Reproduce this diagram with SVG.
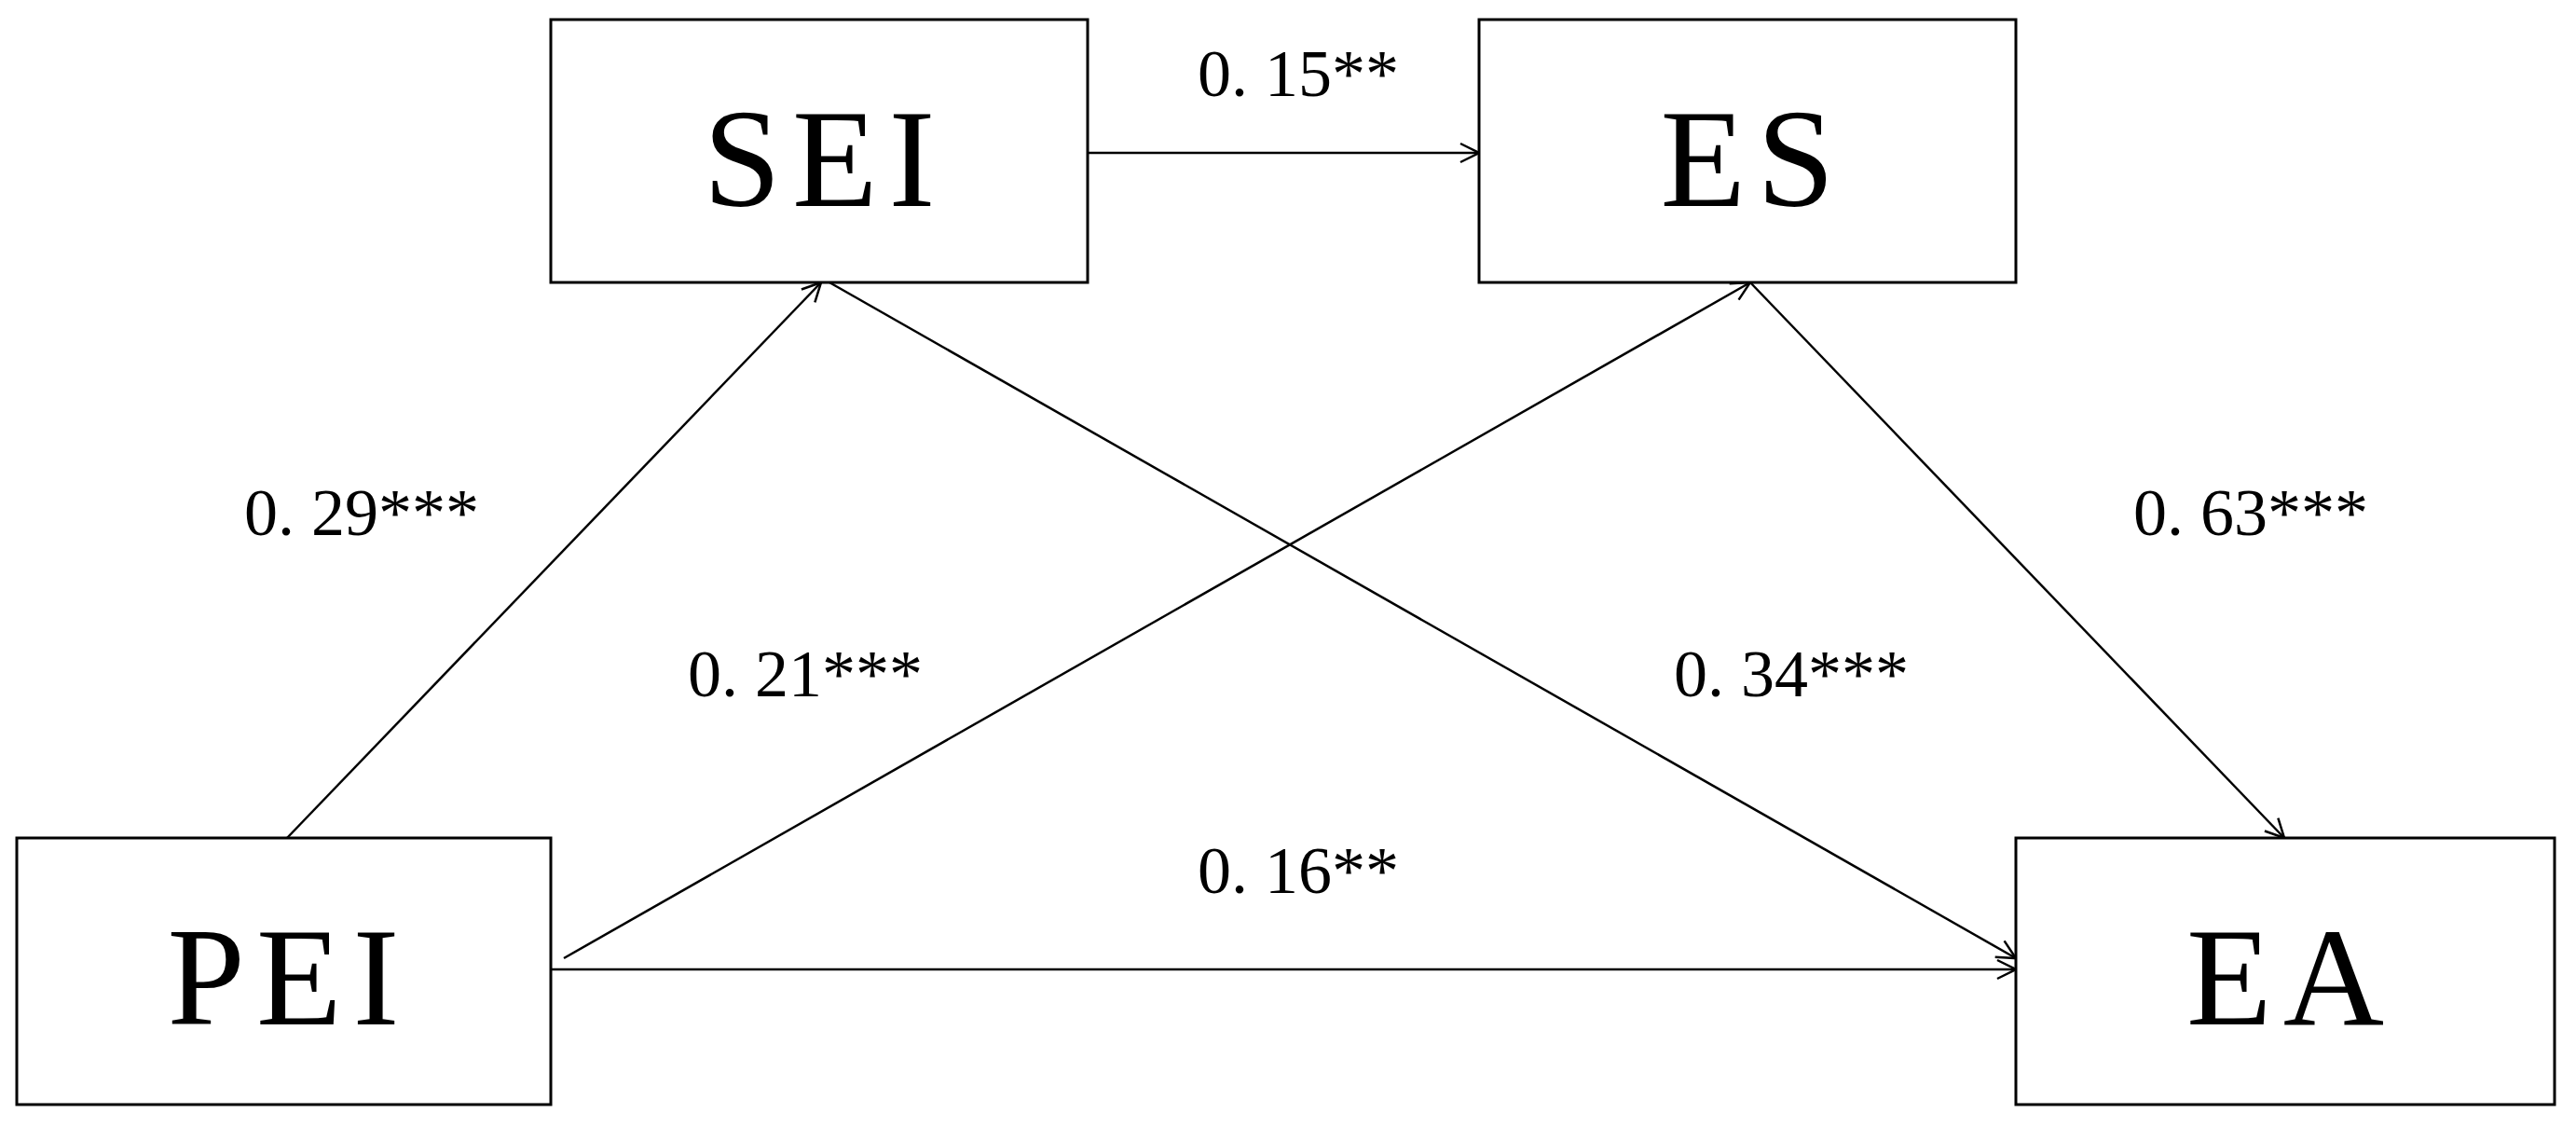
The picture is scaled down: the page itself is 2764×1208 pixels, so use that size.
<svg xmlns="http://www.w3.org/2000/svg" width="2764" height="1208" viewBox="0 0 2764 1208">
<style>
.box{fill:#fff;stroke:#000;stroke-width:3}
.n{font-family:"Liberation Serif",serif;font-size:150px;letter-spacing:12px;text-anchor:middle;dominant-baseline:central}
.l{font-family:"Liberation Serif",serif;font-size:72px;text-anchor:middle;dominant-baseline:central}
.c{stroke:#000;stroke-width:2.5;fill:none;marker-end:url(#a)}
</style>
<defs><marker id="a" markerWidth="24" markerHeight="24" refX="22" refY="12" orient="auto" markerUnits="userSpaceOnUse"><path d="M2,2 L22,12 L2,22" fill="none" stroke="#000" stroke-width="2.5"/></marker></defs>
<rect width="2764" height="1208" fill="#fff"/>
<g id="connectors">
<line class="c" x1="1167" y1="164" x2="1587" y2="164"/>
<line class="c" x1="308" y1="899" x2="881" y2="303"/>
<line class="c" x1="605" y1="1028" x2="1878" y2="303"/>
<line class="c" x1="890" y1="303" x2="2163" y2="1028"/>
<line class="c" x1="1878" y1="303" x2="2451" y2="899"/>
<line class="c" x1="591" y1="1040" x2="2163" y2="1040"/>
</g>
<g id="SEI"><rect class="box" x="591" y="21" width="576" height="282"/><text class="n" x="885" y="170">SEI</text></g>
<g id="ES"><rect class="box" x="1587" y="21" width="576" height="282"/><text class="n" x="1881" y="170">ES</text></g>
<g id="PEI"><rect class="box" x="18" y="899" width="573" height="286"/><text class="n" x="310" y="1048">PEI</text></g>
<g id="EA"><rect class="box" x="2163" y="899" width="578" height="286"/><text class="n" x="2458" y="1048">EA</text></g>
<g id="labels">
<text class="l" x="1393" y="79">0. 15**</text>
<text class="l" x="388" y="550">0. 29***</text>
<text class="l" x="864" y="723">0. 21***</text>
<text class="l" x="1922" y="723">0. 34***</text>
<text class="l" x="2415" y="550">0. 63***</text>
<text class="l" x="1393" y="934">0. 16**</text>
</g>
</svg>
